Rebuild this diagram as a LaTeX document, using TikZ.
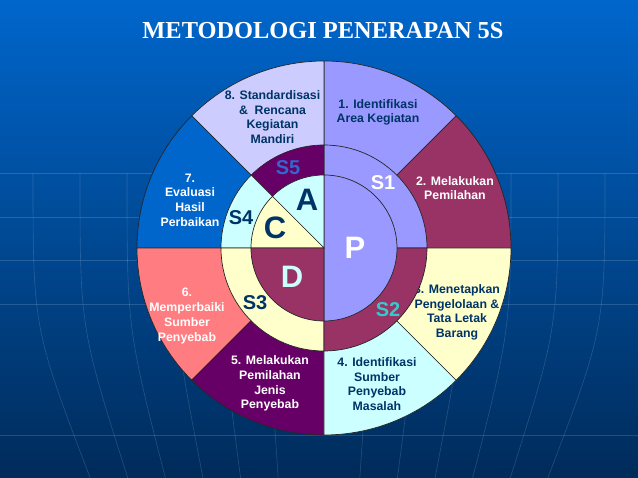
\documentclass[tikz,border=0pt]{standalone}
\usepackage{fontspec}
\setmainfont{Liberation Sans}
\newfontfamily\titlefont{Liberation Serif}
\definecolor{bgtop}{HTML}{0066CC}
\definecolor{bgmid}{HTML}{0053A8}
\definecolor{bgbot}{HTML}{002B5A}
\definecolor{sblue}{HTML}{0066CC}
\definecolor{smaroon}{HTML}{993366}
\definecolor{ssalmon}{HTML}{FF7C80}
\definecolor{sdarkpurple}{HTML}{660066}
\definecolor{slilac}{HTML}{9999FF}
\definecolor{slavender}{HTML}{CCCCFF}
\definecolor{scyan}{HTML}{CCFFFF}
\definecolor{syellow}{HTML}{FFFFCC}
\definecolor{navytext}{HTML}{003366}
\definecolor{tealtext}{HTML}{33CCCC}
\definecolor{bluetext}{HTML}{3366CC}
\tikzset{
  wedge/.style={draw=black!85, line width=0.7pt, fill=#1},
  steplabel/.style={text=#1, font=\bfseries\fontsize{12.3}{14.7}\selectfont, align=center, inner sep=0pt},
  ringlabel/.style={text=#1, font=\bfseries\fontsize{20}{20}\selectfont, inner sep=0pt},
  pdcalabel/.style={text=#1, font=\bfseries\fontsize{31}{31}\selectfont, inner sep=0pt},
  gridline/.style={draw=white, opacity=0.15, line width=0.6pt}
}

\begin{document}
\begin{tikzpicture}[x=1pt, y=1pt]
\shade[top color=bgtop, middle color=bgmid, bottom color=bgbot] (-324,-230) rectangle (314,248);
\useasboundingbox (-324,-230) rectangle (314,248);

% globe grid behind the wheel
\foreach \y in {75,31,-12,-56,-187}
  \draw[gridline] (-324,\y) -- (314,\y);
\foreach \d in {51,98,145,192,239,286} {
  \draw[gridline] (-5-\d,75) .. controls (-5-\d,-80) .. (-5-0.8*\d,-230);
  \draw[gridline] (-5+\d,75) .. controls (-5+\d,-80) .. (-5+0.8*\d,-230);
}

\node[text=white, font=\titlefont\bfseries\fontsize{24.4}{28}\selectfont, anchor=base] (title) at (-1,209.7) {METODOLOGI PENERAPAN 5S};

% outer ring: the eight steps
\foreach \from/\to/\col in {0/45/smaroon, 45/90/slilac, 90/135/slavender, 135/180/sblue, 180/225/ssalmon, 225/270/sdarkpurple, 270/315/scyan, 315/360/syellow}
  \draw[wedge=\col] (0,0) -- (\from:187) arc[start angle=\from, end angle=\to, radius=187] -- cycle;

\node[steplabel=navytext] (step1) at (54,135.5) {1. Identifikasi\\Area Kegiatan};
\node[steplabel=white] (step2) at (131,60) {2. Melakukan\\Pemilahan};
\node[steplabel=navytext] (step3) at (133,-64.5) {3. Menetapkan\\Pengelolaan \&\\Tata Letak\\Barang};
\node[steplabel=navytext] (step4) at (53,-136) {4. Identifikasi\\Sumber\\Penyebab\\Masalah};
\node[steplabel=white] (step5) at (-54,-135.5) {5. Melakukan\\Pemilahan\\Jenis\\Penyebab};
\node[steplabel=white] (step6) at (-137,-68) {6.\\Memperbaiki\\Sumber\\Penyebab};
\node[steplabel=white] (step7) at (-134,48) {7.\\Evaluasi\\Hasil\\Perbaikan};
\node[steplabel=navytext] (step8) at (-51.5,131) {8. Standardisasi\\\&~ Rencana\\Kegiatan\\Mandiri};

% middle ring: S1 .. S5
\foreach \from/\to/\col in {0/90/slilac, 90/135/sdarkpurple, 135/180/scyan, 180/270/syellow, 270/360/smaroon}
  \draw[wedge=\col] (0,0) -- (\from:103) arc[start angle=\from, end angle=\to, radius=103] -- cycle;

% inner circle: P D C A
\foreach \from/\to/\col in {-90/90/slilac, 90/135/scyan, 135/180/syellow, 180/270/smaroon}
  \draw[wedge=\col] (0,0) -- (\from:73) arc[start angle=\from, end angle=\to, radius=73] -- cycle;

\node[ringlabel=white] (s1) at (59,65) {S1};
\node[ringlabel=tealtext] (s2) at (64,-62) {S2};
\node[ringlabel=navytext] (s3) at (-69,-55) {S3};
\node[ringlabel=navytext] (s4) at (-83,30) {S4};
\node[ringlabel=bluetext] (s5) at (-36,80) {S5};

\node[pdcalabel=white] (plan) at (31,0) {P};
\node[pdcalabel=scyan] (do) at (-32,-29) {D};
\node[pdcalabel=navytext] (check) at (-49,20) {C};
\node[pdcalabel=navytext] (act) at (-17,48) {A};
\end{tikzpicture}
\end{document}
